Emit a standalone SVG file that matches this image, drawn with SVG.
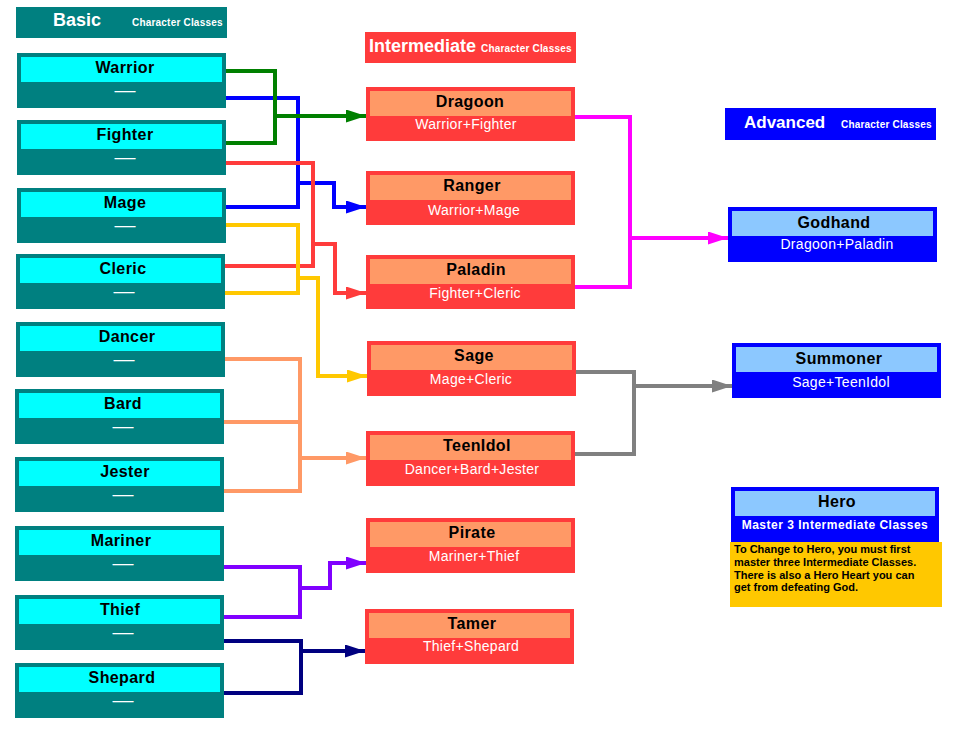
<svg xmlns="http://www.w3.org/2000/svg" width="954" height="730" viewBox="0 0 954 730">
<style>
.bg{fill:#ffffff}
.teal{fill:#008080}
.cyan{fill:#00ffff}
.red{fill:#ff3b3b}
.salmon{fill:#ff9966}
.blue{fill:#0000ff}
.lblue{fill:#8cc8ff}
.yel{fill:#ffc800}
.hdr{font-family:"Liberation Sans",Arial,sans-serif;font-weight:bold;font-size:18px;fill:#ffffff}
.hsub{font-family:"Liberation Sans",Arial,sans-serif;font-weight:bold;font-size:10px;fill:#ffffff;letter-spacing:0.2px}
.title{font-family:"Liberation Sans",Arial,sans-serif;font-weight:bold;font-size:16px;fill:#000000;text-anchor:middle;letter-spacing:0.4px}
.sub{font-family:"Liberation Sans",Arial,sans-serif;font-size:14px;fill:#ffffff;text-anchor:middle;letter-spacing:0.3px}
.dash{font-family:"Liberation Sans",Arial,sans-serif;font-size:21px;fill:#ffffff;text-anchor:middle}
.note{font-family:"Liberation Sans",Arial,sans-serif;font-weight:bold;font-size:11px;fill:#000000}
.hero{font-family:"Liberation Sans",Arial,sans-serif;font-weight:bold;font-size:12px;fill:#ffffff;text-anchor:middle;letter-spacing:0.5px}
.c{fill:none;stroke-width:4;stroke-linejoin:miter;stroke-linecap:square}
</style>
<defs>
<marker id="aGreen" markerUnits="userSpaceOnUse" markerWidth="20" markerHeight="13" refX="20" refY="6.5" orient="auto"><path d="M0,0 L20,6.5 L0,13 z" fill="#008000"/></marker>
<marker id="aBlue" markerUnits="userSpaceOnUse" markerWidth="20" markerHeight="13" refX="20" refY="6.5" orient="auto"><path d="M0,0 L20,6.5 L0,13 z" fill="#0000ff"/></marker>
<marker id="aRed" markerUnits="userSpaceOnUse" markerWidth="20" markerHeight="13" refX="20" refY="6.5" orient="auto"><path d="M0,0 L20,6.5 L0,13 z" fill="#ff3b3b"/></marker>
<marker id="aYel" markerUnits="userSpaceOnUse" markerWidth="20" markerHeight="13" refX="20" refY="6.5" orient="auto"><path d="M0,0 L20,6.5 L0,13 z" fill="#ffc800"/></marker>
<marker id="aSal" markerUnits="userSpaceOnUse" markerWidth="20" markerHeight="13" refX="20" refY="6.5" orient="auto"><path d="M0,0 L20,6.5 L0,13 z" fill="#ff9966"/></marker>
<marker id="aPur" markerUnits="userSpaceOnUse" markerWidth="20" markerHeight="13" refX="20" refY="6.5" orient="auto"><path d="M0,0 L20,6.5 L0,13 z" fill="#8000ff"/></marker>
<marker id="aNavy" markerUnits="userSpaceOnUse" markerWidth="20" markerHeight="13" refX="20" refY="6.5" orient="auto"><path d="M0,0 L20,6.5 L0,13 z" fill="#000080"/></marker>
<marker id="aMag" markerUnits="userSpaceOnUse" markerWidth="20" markerHeight="13" refX="20" refY="6.5" orient="auto"><path d="M0,0 L20,6.5 L0,13 z" fill="#ff00ff"/></marker>
<marker id="aGray" markerUnits="userSpaceOnUse" markerWidth="20" markerHeight="13" refX="20" refY="6.5" orient="auto"><path d="M0,0 L20,6.5 L0,13 z" fill="#808080"/></marker>
</defs>
<rect class="bg" x="0" y="0" width="954" height="730"/>

<g id="headers">
<g id="hdr-basic"><rect class="teal" x="16" y="7" width="211" height="31"/><text class="hdr" x="53" y="26">Basic</text><text class="hsub" x="132" y="26">Character Classes</text></g>
<g id="hdr-intermediate"><rect class="red" x="365" y="32" width="211" height="31"/><text class="hdr" x="369" y="52">Intermediate</text><text class="hsub" x="481" y="52">Character Classes</text></g>
<g id="hdr-advanced"><rect class="blue" x="725" y="108" width="211" height="32"/><text class="hdr" x="744" y="128" style="font-size:17px">Advanced</text><text class="hsub" x="841" y="128">Character Classes</text></g>
</g>

<g id="connectors">
<polyline class="c" stroke="#0000ff" points="226,98 298,98 298,207 226,207"/>
<polyline class="c" stroke="#0000ff" points="298,183 334,183 334,207 366,207" marker-end="url(#aBlue)"/>
<polyline class="c" stroke="#008000" points="226,71 275,71 275,143 226,143"/>
<polyline class="c" stroke="#008000" points="275,116 366,116" marker-end="url(#aGreen)"/>
<polyline class="c" stroke="#ff3b3b" points="226,163 313,163 313,266 225,266"/>
<polyline class="c" stroke="#ff3b3b" points="313,244 335,244 335,293 366,293" marker-end="url(#aRed)"/>
<polyline class="c" stroke="#ffc800" points="226,225 298,225 298,293 225,293"/>
<polyline class="c" stroke="#ffc800" points="298,278 318,278 318,376 367,376" marker-end="url(#aYel)"/>
<polyline class="c" stroke="#ff9966" points="225,359 300,359 300,491 224,491"/>
<polyline class="c" stroke="#ff9966" points="224,422 300,422"/>
<polyline class="c" stroke="#ff9966" points="300,458 366,458" marker-end="url(#aSal)"/>
<polyline class="c" stroke="#8000ff" points="224,567 300,567 300,617 224,617"/>
<polyline class="c" stroke="#8000ff" points="300,588 330,588 330,563 366,563" marker-end="url(#aPur)"/>
<polyline class="c" stroke="#000080" points="224,641 301,641 301,693 224,693"/>
<polyline class="c" stroke="#000080" points="301,651 365,651" marker-end="url(#aNavy)"/>
<polyline class="c" stroke="#ff00ff" points="575,117 630,117 630,287 575,287"/>
<polyline class="c" stroke="#ff00ff" points="630,238 728,238" marker-end="url(#aMag)"/>
<polyline class="c" stroke="#808080" points="576,372 634,372 634,454 575,454"/>
<polyline class="c" stroke="#808080" points="634,386 732,386" marker-end="url(#aGray)"/>
</g>

<g id="warrior"><rect class="teal" x="17" y="53" width="209" height="55"/><rect class="cyan" x="21" y="57" width="201" height="25"/><text class="title" x="125" y="73">Warrior</text><text class="dash" x="125" y="97">—</text></g>
<g id="fighter"><rect class="teal" x="17" y="120" width="209" height="55"/><rect class="cyan" x="21" y="124" width="201" height="25"/><text class="title" x="125" y="140">Fighter</text><text class="dash" x="125" y="164">—</text></g>
<g id="mage"><rect class="teal" x="17" y="188" width="209" height="55"/><rect class="cyan" x="21" y="192" width="201" height="25"/><text class="title" x="125" y="208">Mage</text><text class="dash" x="125" y="232">—</text></g>
<g id="cleric"><rect class="teal" x="16" y="254" width="209" height="55"/><rect class="cyan" x="20" y="258" width="201" height="25"/><text class="title" x="123" y="274">Cleric</text><text class="dash" x="124" y="298">—</text></g>
<g id="dancer"><rect class="teal" x="16" y="322" width="209" height="55"/><rect class="cyan" x="20" y="326" width="201" height="25"/><text class="title" x="127" y="342">Dancer</text><text class="dash" x="124" y="366">—</text></g>
<g id="bard"><rect class="teal" x="15" y="389" width="209" height="55"/><rect class="cyan" x="19" y="393" width="201" height="25"/><text class="title" x="123" y="409">Bard</text><text class="dash" x="123" y="433">—</text></g>
<g id="jester"><rect class="teal" x="15" y="457" width="209" height="55"/><rect class="cyan" x="19" y="461" width="201" height="25"/><text class="title" x="125" y="477">Jester</text><text class="dash" x="123" y="501">—</text></g>
<g id="mariner"><rect class="teal" x="15" y="526" width="209" height="55"/><rect class="cyan" x="19" y="530" width="201" height="25"/><text class="title" x="121" y="546">Mariner</text><text class="dash" x="123" y="570">—</text></g>
<g id="thief"><rect class="teal" x="15" y="595" width="209" height="55"/><rect class="cyan" x="19" y="599" width="201" height="25"/><text class="title" x="120" y="615">Thief</text><text class="dash" x="123" y="639">—</text></g>
<g id="shepard"><rect class="teal" x="15" y="663" width="209" height="55"/><rect class="cyan" x="19" y="667" width="201" height="25"/><text class="title" x="122" y="683">Shepard</text><text class="dash" x="123" y="707">—</text></g>

<g id="dragoon"><rect class="red" x="366" y="87" width="209" height="54"/><rect class="salmon" x="370" y="91" width="201" height="25"/><text class="title" x="470" y="107">Dragoon</text><text class="sub" x="466" y="129">Warrior+Fighter</text></g>
<g id="ranger"><rect class="red" x="366" y="171" width="209" height="54"/><rect class="salmon" x="370" y="175" width="201" height="25"/><text class="title" x="472" y="191">Ranger</text><text class="sub" x="474" y="215">Warrior+Mage</text></g>
<g id="paladin"><rect class="red" x="366" y="255" width="209" height="54"/><rect class="salmon" x="370" y="259" width="201" height="25"/><text class="title" x="476" y="275">Paladin</text><text class="sub" x="475" y="298">Fighter+Cleric</text></g>
<g id="sage"><rect class="red" x="367" y="341" width="209" height="55"/><rect class="salmon" x="371" y="345" width="201" height="25"/><text class="title" x="474" y="361">Sage</text><text class="sub" x="471" y="384">Mage+Cleric</text></g>
<g id="teenidol"><rect class="red" x="366" y="431" width="209" height="55"/><rect class="salmon" x="370" y="435" width="201" height="25"/><text class="title" x="477" y="451">TeenIdol</text><text class="sub" x="472" y="474">Dancer+Bard+Jester</text></g>
<g id="pirate"><rect class="red" x="366" y="518" width="209" height="55"/><rect class="salmon" x="370" y="522" width="201" height="25"/><text class="title" x="472" y="538">Pirate</text><text class="sub" x="474" y="561">Mariner+Thief</text></g>
<g id="tamer"><rect class="red" x="365" y="609" width="209" height="55"/><rect class="salmon" x="369" y="613" width="201" height="25"/><text class="title" x="472" y="629">Tamer</text><text class="sub" x="471" y="651">Thief+Shepard</text></g>

<g id="godhand"><rect class="blue" x="728" y="207" width="209" height="55"/><rect class="lblue" x="732" y="211" width="201" height="25"/><text class="title" x="834" y="228">Godhand</text><text class="sub" x="837" y="249">Dragoon+Paladin</text></g>
<g id="summoner"><rect class="blue" x="732" y="343" width="209" height="55"/><rect class="lblue" x="736" y="347" width="201" height="25"/><text class="title" x="839" y="364">Summoner</text><text class="sub" x="841" y="387">Sage+TeenIdol</text></g>
<g id="hero"><rect class="blue" x="731" y="487" width="208" height="55"/><rect class="lblue" x="735" y="491" width="200" height="25"/><text class="title" x="837" y="507">Hero</text><text class="hero" x="835" y="529">Master 3 Intermediate Classes</text>
<rect class="yel" x="730" y="542" width="212" height="65"/>
<text class="note" x="734" y="553">To Change to Hero, you must first</text>
<text class="note" x="734" y="566">master three Intermediate Classes.</text>
<text class="note" x="734" y="579">There is also a Hero Heart you can</text>
<text class="note" x="734" y="591">get from defeating God.</text>
</g>
</svg>
